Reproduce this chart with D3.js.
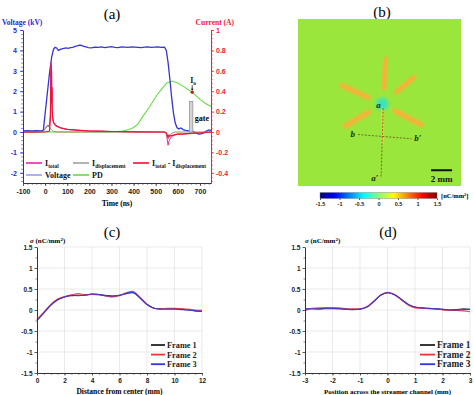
<!DOCTYPE html>
<html>
<head>
<meta charset="utf-8">
<script src="https://cdn.jsdelivr.net/npm/d3@7/dist/d3.min.js"></script>
<style>
  body { margin: 0; background: #fff; }
  svg { display: block; font-family: "Liberation Serif", "Times New Roman", serif; }
</style>
</head>
<body>
<svg id="fig" width="474" height="395"></svg>
<script>
// ---------- data: panel (a), time in ns ----------
const voltage = [ // [t, kV]
  [-100,0.06],[-80,0.07],[-60,0.05],[-40,0.07],[-20,0.06],[-8,0.08],[0,0.9],[10,1.9],[20,2.9],[30,3.7],
  [38,4.05],[45,4.15],[52,4.12],[60,4.0],[68,4.05],[76,4.08],[85,4.1],[95,4.12],[105,4.1],[115,4.14],
  [125,4.15],[135,4.2],[145,4.22],[155,4.26],[165,4.24],[175,4.2],[185,4.17],[195,4.14],[210,4.12],[225,4.16],
  [240,4.15],[255,4.17],[270,4.14],[285,4.16],[300,4.18],[315,4.15],[330,4.14],[345,4.17],[360,4.16],[375,4.15],
  [390,4.17],[405,4.16],[420,4.15],[435,4.14],[450,4.16],[465,4.17],[480,4.15],[495,4.16],[510,4.17],[525,4.15],
  [540,4.16],[548,4.0],[556,3.4],[564,2.6],[572,1.7],[580,0.95],[588,0.45],[596,0.22],[604,0.15],[614,0.2],
  [624,0.12],[636,0.08],[650,0.06],[665,0.05],[680,-0.05],[695,-0.1],[710,-0.08],[725,0.02],[740,0.1],[750,0.08]
];
const pd = [ // [t, A]
  [-100,0],[300,0],[350,0.01],[380,0.025],[400,0.045],[420,0.08],[444,0.16],[470,0.24],[505,0.36],[530,0.43],
  [550,0.48],[574,0.5],[600,0.48],[630,0.44],[665,0.39],[700,0.32],[725,0.28],[750,0.25]
];
const currentTime = [-100,-50,-10,0,10,20,24,26,27,28,29,30,31,32,34,37,40,45,50,60,70,80,100,130,160,200,250,300,
  400,500,540,548,552,556,560,564,570,580,590,600,620,650,680,700,730,750];
const iNet = [0,0,0,0,0.005,0.01,0.15,0.52,0.66,0.38,0.6,0.28,0.42,0.2,0.14,0.1,0.085,0.07,0.06,0.05,0.04,0.035,0.025,0.02,0.015,0.01,0.008,0.005,
  0.002,0,0,-0.01,-0.03,-0.05,-0.03,-0.04,-0.035,-0.03,-0.025,-0.02,-0.02,-0.015,-0.01,-0.01,-0.005,0];
const iDisp = [0,0,0.005,0.03,0.06,0.05,0.035,0.03,0.028,0.025,0.022,0.02,0.018,0.016,0.012,0.008,0.005,0.003,0.002,0,0,0,0,0,0,0,0,0,
  0,0,0,-0.01,-0.04,-0.07,-0.06,-0.03,-0.015,-0.005,0,0,0,0,0,0,0,0];
const iTotal = [0,0,0.005,0.03,0.065,0.06,0.185,0.55,0.69,0.405,0.62,0.3,0.44,0.216,0.152,0.108,0.09,0.073,0.062,0.05,0.04,0.035,0.025,0.02,0.015,0.01,0.008,0.005,
  0.002,0,0,-0.02,-0.07,-0.13,-0.09,-0.07,-0.05,-0.035,-0.025,-0.02,-0.02,-0.015,-0.01,-0.01,-0.005,0];
const ioPoint = [665, 0.39];
const gateWindow = [652, 668, 0.3];
const timeTicks = [-100,0,100,200,300,400,500,600,700];
const voltTicks = [-2,-1,0,1,2,3,4,5];
const currTicks = [-0.4,-0.2,0,0.2,0.4,0.6,0.8,1];

// ---------- data: panel (b), mm from the centre ----------
const streamAngle = [5, 50, 118, 179, 239, 295];     // degrees, clockwise from up
const streamFrom  = [1.5, 1.8, 1.4, 0.6, 1.5, 1.5];
const streamTo    = [4.3, 3.9, 4.2, 3.7, 4.1, 4.2];
const streamValue = [0.7, 0.7, 0.7, 0.55, 0.7, 0.7]; // nC/mm^2
const lineAA = [[0.1, 0.4], [-0.1, 6.9]];
const lineBB = [[-2.3, 2.9], [2.8, 3.3]];
const cbTicks = [-1.5,-1,-0.5,0,0.5,1,1.5];

// ---------- data: panels (c) and (d) ----------
const distC = [0,0.5,1,1.5,2,2.5,3,3.5,4,4.5,5,5.5,6,6.5,7,7.5,8,8.5,9,9.5,10,10.5,11,11.5,12];
const frame1C = [-0.24,-0.06,0.12,0.25,0.31,0.34,0.35,0.36,0.38,0.37,0.35,0.33,0.35,0.39,0.41,0.28,0.13,0.04,0.03,0.03,0.03,0.02,0.0,-0.02,-0.03];
const frame2C = [-0.23,-0.05,0.13,0.26,0.32,0.36,0.39,0.36,0.37,0.36,0.33,0.31,0.34,0.41,0.44,0.3,0.14,0.04,0.03,0.04,0.04,0.03,0.02,0.0,-0.01];
const frame3C = [-0.25,-0.07,0.11,0.24,0.31,0.35,0.34,0.35,0.38,0.37,0.34,0.33,0.35,0.4,0.42,0.29,0.13,0.04,0.02,0.02,0.02,0.01,0.0,-0.02,-0.03];
const distD = [-3,-2.75,-2.5,-2.25,-2,-1.75,-1.5,-1.25,-1,-0.75,-0.5,-0.25,0,0.25,0.5,0.75,1,1.25,1.5,1.75,2,2.25,2.5,2.75,3];
const frame1D = [0.02,0.03,0.03,0.04,0.04,0.03,0.02,0.02,0.02,0.07,0.2,0.35,0.41,0.37,0.25,0.13,0.07,0.05,0.04,0.03,0.01,0.0,0.01,0.03,0.01];
const frame2D = [-0.02,0.04,0.05,0.06,0.06,0.05,0.03,0.02,0.03,0.08,0.21,0.36,0.42,0.36,0.24,0.12,0.05,0.04,0.03,0.02,0.01,-0.01,-0.01,-0.02,-0.04];
const frame3D = [0.03,0.03,0.02,0.03,0.03,0.03,0.02,0.01,0.02,0.07,0.2,0.35,0.41,0.37,0.26,0.14,0.07,0.05,0.04,0.03,0.02,0.0,0.0,0.01,0.02];
const frameNames = ['Frame 1', 'Frame 2', 'Frame 3'];
const sigmaTicks = [-1.5,-1,-0.5,0,0.5,1,1.5];

const svg = d3.select('#fig');
const fmt = d => String(d);

function styleAxis(g, color, textColor, size) {
  g.select('.domain').attr('stroke', color).attr('stroke-width', 1);
  g.selectAll('.tick line').attr('stroke', color).attr('stroke-width', 0.8);
  g.selectAll('.tick text').attr('fill', textColor).attr('font-size', size)
    .attr('font-weight', 'bold').attr('font-family', null);
}
function minor(g, axis, color) {
  g.call(axis.tickFormat('').tickSizeOuter(0));
  g.select('.domain').remove();
  g.selectAll('.tick line').attr('stroke', color).attr('stroke-width', 0.6);
}
function subLabel(g, x, y, parts, size, color) {
  const t = g.append('text').attr('x', x).attr('y', y).attr('font-weight', 'bold')
    .attr('font-size', size).attr('fill', color || '#111');
  parts.forEach(p => {
    if (p[1]) t.append('tspan').attr('font-size', size * 0.68).attr('dy', 2).text(p[0]);
    else t.append('tspan').attr('dy', p[2] || 0).text(p[0]);
  });
  return t;
}

// ================= panel (a) =================
const A = {left: 23, right: 211, top: 30, bottom: 183};
const xA = d3.scaleLinear().domain([-100, 750]).range([A.left, A.right]);
const yV = d3.scaleLinear().domain([-2.5, 5]).range([A.bottom, A.top]);
const yI = d3.scaleLinear().domain([-0.5, 1]).range([A.bottom, A.top]);
const gA = svg.append('g');

gA.append('text').attr('x', 112).attr('y', 19).attr('text-anchor', 'middle').attr('font-size', 15).text('(a)');
gA.append('text').attr('x', 2).attr('y', 25).attr('font-size', 7.5).attr('font-weight', 'bold')
  .attr('fill', '#2a2ad0').text('Voltage (kV)');
gA.append('text').attr('x', 234).attr('y', 25).attr('text-anchor', 'end').attr('font-size', 7.5)
  .attr('font-weight', 'bold').attr('fill', '#ee2233').text('Current (A)');

const lineV = d3.line().x(d => xA(d[0])).y(d => yV(d[1]));
const lineI = d3.line().x(d => xA(d[0])).y(d => yI(d[1]));
const zipI = arr => currentTime.map((t, i) => [t, arr[i]]);

gA.append('path').attr('d', lineI(pd)).attr('fill', 'none').attr('stroke', '#66dd44').attr('stroke-width', 1.1);
gA.append('path').attr('d', lineV(voltage)).attr('fill', 'none').attr('stroke', '#3434d8').attr('stroke-width', 1.3);
gA.append('path').attr('d', lineI(zipI(iTotal))).attr('fill', 'none').attr('stroke', '#ee22aa').attr('stroke-width', 1);
gA.append('path').attr('d', lineI(zipI(iDisp))).attr('fill', 'none').attr('stroke', '#a08a60').attr('stroke-width', 1);
gA.append('path').attr('d', lineI(zipI(iNet))).attr('fill', 'none').attr('stroke', '#ee1133').attr('stroke-width', 1.2);

// gate window and I_o marker
gA.append('rect').attr('x', xA(gateWindow[0])).attr('y', yI(gateWindow[2]))
  .attr('width', xA(gateWindow[1]) - xA(gateWindow[0])).attr('height', yI(0) - yI(gateWindow[2]))
  .attr('fill', '#d4d4d4').attr('stroke', '#8a8a8a').attr('stroke-width', 0.7);
gA.append('text').attr('x', xA(gateWindow[1]) + 2).attr('y', yI(0.11)).attr('font-size', 8)
  .attr('font-weight', 'bold').text('gate');
const ioX = xA(ioPoint[0]), ioY = yI(ioPoint[1]);
gA.append('circle').attr('cx', ioX).attr('cy', ioY).attr('r', 1.6).attr('fill', '#cc1111');
gA.append('line').attr('x1', ioX).attr('x2', ioX).attr('y1', ioY - 7).attr('y2', ioY - 2.5)
  .attr('stroke', '#111').attr('stroke-width', 0.8);
gA.append('path').attr('d', `M${ioX - 1.5},${ioY - 3.5}L${ioX + 1.5},${ioY - 3.5}L${ioX},${ioY - 1.6}Z`).attr('fill', '#111');
subLabel(gA, ioX - 2, ioY - 9, [['I'], ['o', true]], 8);

// axes
const gL = gA.append('g').attr('transform', `translate(${A.left},0)`);
minor(gL, d3.axisLeft(yV).tickValues(d3.range(-2.4, 5.01, 0.2)).tickSize(1.8), '#2a2ad0');
gL.append('g').call(d3.axisLeft(yV).tickValues(voltTicks).tickFormat(fmt).tickSize(3).tickSizeOuter(0).tickPadding(3))
  .call(g => styleAxis(g, '#2a2ad0', '#2a2ad0', 7));
const gR = gA.append('g').attr('transform', `translate(${A.right},0)`);
minor(gR, d3.axisRight(yI).tickValues(d3.range(-0.48, 1.001, 0.04)).tickSize(1.8), '#ee2233');
gR.append('g').call(d3.axisRight(yI).tickValues(currTicks).tickFormat(fmt).tickSize(3).tickSizeOuter(0).tickPadding(2))
  .call(g => styleAxis(g, '#ee2233', '#ee2233', 7));
const gB = gA.append('g').attr('transform', `translate(0,${A.bottom})`);
minor(gB, d3.axisBottom(xA).tickValues(d3.range(-80, 751, 20)).tickSize(1.8), '#334');
gB.append('g').call(d3.axisBottom(xA).tickValues(timeTicks).tickFormat(fmt).tickSize(3).tickSizeOuter(0).tickPadding(3))
  .call(g => styleAxis(g, '#334', '#222', 7));
gA.append('text').attr('x', 117).attr('y', 206).attr('text-anchor', 'middle').attr('font-size', 7.5)
  .attr('font-weight', 'bold').text('Time (ns)');

// legend (a)
const legA = [
  {x: 26, y: 163, c: '#ee22aa', parts: [['I'], ['total', true]]},
  {x: 73, y: 163, c: '#a0a0a0', parts: [['I'], ['displacement', true]]},
  {x: 133, y: 163, c: '#ee1133', parts: [['I'], ['total', true], [' - I', false, -2], ['displacement', true]]},
  {x: 26, y: 175, c: '#9c9cf4', parts: [['Voltage']]},
  {x: 73, y: 175, c: '#66dd44', parts: [['PD']]}
];
legA.forEach(d => {
  gA.append('line').attr('x1', d.x).attr('x2', d.x + 16).attr('y1', d.y).attr('y2', d.y)
    .attr('stroke', d.c).attr('stroke-width', 1.6);
  subLabel(gA, d.x + 19, d.y + 2.5, d.parts, 8);
});

// ================= panel (b) =================
const gBm = svg.append('g');
gBm.append('text').attr('x', 382).attr('y', 17).attr('text-anchor', 'middle').attr('font-size', 15).text('(b)');
const xMM = d3.scaleLinear().domain([-8, 7.5]).range([298, 461]);
const yMM = d3.scaleLinear().domain([-8.1, 7.8]).range([19, 186]);
const jetStops = ['#00007f', '#0000ff', '#00ffff', '#ffff00', '#ff0000', '#7f0000'];
const jetAt = [0, 0.125, 0.375, 0.625, 0.875, 1];
const cScale = d3.scaleLinear().domain(jetAt.map(t => -1.5 + 3 * t)).range(jetStops).interpolate(d3.interpolateRgb);

const defs = svg.append('defs');
defs.append('filter').attr('id', 'soft').attr('x', '-50%').attr('y', '-50%').attr('width', '200%').attr('height', '200%')
  .append('feGaussianBlur').attr('stdDeviation', 0.9);
const rg = defs.append('radialGradient').attr('id', 'core');
rg.append('stop').attr('offset', '0%').attr('stop-color', '#2ee0c8');
rg.append('stop').attr('offset', '60%').attr('stop-color', '#55e49a');
rg.append('stop').attr('offset', '100%').attr('stop-color', '#9be63c');

gBm.append('rect').attr('x', xMM(-8)).attr('y', yMM(-8.1)).attr('width', xMM(7.5) - xMM(-8))
  .attr('height', yMM(7.8) - yMM(-8.1)).attr('fill', '#9be63c');
gBm.append('circle').attr('cx', xMM(0)).attr('cy', yMM(0)).attr('r', 8.5).attr('fill', 'url(#core)');
streamAngle.forEach((a, i) => {
  const r = a * Math.PI / 180;
  gBm.append('line')
    .attr('x1', xMM(streamFrom[i] * Math.sin(r))).attr('y1', yMM(-streamFrom[i] * Math.cos(r)))
    .attr('x2', xMM(streamTo[i] * Math.sin(r))).attr('y2', yMM(-streamTo[i] * Math.cos(r)))
    .attr('stroke', d3.interpolateRgb(cScale(streamValue[i]), '#ffe0a0')(0.35)).attr('stroke-opacity', 0.95)
    .attr('stroke-width', i === 3 ? 3.2 : 5).attr('stroke-linecap', 'round').attr('filter', 'url(#soft)');
});
[lineAA, lineBB].forEach(l => {
  gBm.append('line').attr('x1', xMM(l[0][0])).attr('y1', yMM(l[0][1])).attr('x2', xMM(l[1][0])).attr('y2', yMM(l[1][1]))
    .attr('stroke', '#6a4a1a').attr('stroke-width', 0.8).attr('stroke-dasharray', '2,1.5');
});
const lab = (x, y, t) => gBm.append('text').attr('x', x).attr('y', y).attr('font-size', 9).attr('font-weight', 'bold')
  .attr('font-style', 'italic').attr('fill', '#1a2a10').attr('text-anchor', 'middle').text(t);
lab(xMM(-0.35), yMM(0.35), 'a');
lab(xMM(-2.8), yMM(3.1), 'b');
lab(xMM(3.4), yMM(3.5), 'b\u2032');
lab(xMM(-0.7), yMM(7.3), 'a\u2032');
gBm.append('line').attr('x1', xMM(4.65)).attr('x2', xMM(6.65)).attr('y1', yMM(6.3)).attr('y2', yMM(6.3))
  .attr('stroke', '#111').attr('stroke-width', 2);
gBm.append('text').attr('x', xMM(5.65)).attr('y', yMM(7.4)).attr('text-anchor', 'middle').attr('font-size', 9)
  .attr('font-weight', 'bold').attr('fill', '#111').text('2 mm');

// colourbar
const cbX = d3.scaleLinear().domain([-1.5, 1.5]).range([320, 437]);
const lg = defs.append('linearGradient').attr('id', 'jet');
jetStops.forEach((c, i) => lg.append('stop').attr('offset', jetAt[i] * 100 + '%').attr('stop-color', c));
gBm.append('rect').attr('x', cbX(-1.5)).attr('y', 192.5).attr('width', cbX(1.5) - cbX(-1.5)).attr('height', 6)
  .attr('fill', 'url(#jet)').attr('stroke', '#777').attr('stroke-width', 0.4);
const gCb = gBm.append('g').attr('transform', 'translate(0,198.5)')
  .call(d3.axisBottom(cbX).tickValues(cbTicks).tickFormat(fmt).tickSize(1.5).tickSizeOuter(0).tickPadding(2));
gCb.select('.domain').remove();
gCb.selectAll('.tick line').attr('stroke', '#555');
gCb.selectAll('.tick text').attr('font-size', 5.5).attr('font-weight', 'bold').attr('font-family', null).attr('fill', '#222');
const cbl = gBm.append('text').attr('x', 441).attr('y', 198).attr('font-size', 6.5).attr('font-weight', 'bold').text('[nC/mm');
cbl.append('tspan').attr('font-size', 4.5).attr('dy', -2.5).text('2');
cbl.append('tspan').attr('dy', 2.5).text(']');

// ================= panels (c), (d) =================
const frameColors = ['#222222', '#ee3333', '#3333ee'];
function sigmaPanel(o) {
  const g = svg.append('g');
  const x = d3.scaleLinear().domain(o.domain).range([o.left, o.right]);
  const y = d3.scaleLinear().domain([-1.5, 1.5]).range([373, 247]);
  g.append('text').attr('x', o.titleX).attr('y', 237).attr('text-anchor', 'middle').attr('font-size', 15).text(o.title);
  // grid
  g.selectAll('.gx').data(o.ticks.slice(1)).join('line').attr('x1', d => x(d)).attr('x2', d => x(d))
    .attr('y1', y(-1.5)).attr('y2', y(1.5)).attr('stroke', '#dcdcdc').attr('stroke-width', 0.6);
  g.selectAll('.gy').data(sigmaTicks.slice(1)).join('line').attr('x1', o.left).attr('x2', o.right)
    .attr('y1', d => y(d)).attr('y2', d => y(d)).attr('stroke', '#dcdcdc').attr('stroke-width', 0.6);
  // series
  const line = d3.line().x((d, i) => x(o.dist[i])).y(d => y(d)).curve(d3.curveCatmullRom);
  o.frames.forEach((f, k) => {
    g.append('path').attr('d', line(f)).attr('fill', 'none').attr('stroke', frameColors[k])
      .attr('stroke-width', 1.1).attr('stroke-opacity', 0.9);
  });
  // axes
  const gy = g.append('g').attr('transform', `translate(${o.left},0)`);
  minor(gy, d3.axisLeft(y).tickValues(d3.range(-1.25, 1.5, 0.5)).tickSize(1.5), '#333');
  gy.append('g').call(d3.axisLeft(y).tickValues(sigmaTicks).tickFormat(fmt).tickSize(2.5).tickSizeOuter(0).tickPadding(2))
    .call(s => styleAxis(s, '#333', '#222', 6.5));
  const gx = g.append('g').attr('transform', `translate(0,${y(-1.5)})`);
  minor(gx, d3.axisBottom(x).tickValues(o.minor).tickSize(1.8), '#333');
  gx.append('g').call(d3.axisBottom(x).tickValues(o.ticks).tickFormat(fmt).tickSize(2.5).tickSizeOuter(0).tickPadding(3))
    .call(s => styleAxis(s, '#333', '#222', 6.5));
  g.append('text').attr('x', (o.left + o.right) / 2).attr('y', 394).attr('text-anchor', 'middle')
    .attr('font-size', o.xTitleSize).attr('font-weight', 'bold').text(o.xTitle);
  const yl = g.append('text').attr('x', o.ylX).attr('y', 243).attr('font-size', 7).attr('font-weight', 'bold');
  yl.append('tspan').attr('font-style', 'italic').text('\u03c3');
  yl.append('tspan').text(' (nC/mm');
  yl.append('tspan').attr('font-size', 5).attr('dy', -2.5).text('2');
  yl.append('tspan').attr('dy', 2.5).text(')');
  // legend
  frameNames.forEach((n, k) => {
    const ly = 345 + k * 9.6;
    g.append('line').attr('x1', o.legX).attr('x2', o.legX + o.legLen).attr('y1', ly).attr('y2', ly)
      .attr('stroke', frameColors[k]).attr('stroke-width', 1.8);
    g.append('text').attr('x', o.legX + o.legLen + 2).attr('y', ly + 3).attr('font-size', o.legSize)
      .attr('font-weight', 'bold').attr('fill', '#222').text(n);
  });
}

sigmaPanel({
  left: 37, right: 202, domain: [0, 12], ticks: d3.range(0, 13, 2), minor: d3.range(0.5, 12, 0.5),
  dist: distC, frames: [frame1C, frame2C, frame3C], title: '(c)', titleX: 112,
  xTitle: 'Distance from center (mm)', xTitleSize: 7.5, ylX: 30,
  legX: 151, legLen: 14, legSize: 8.3
});
sigmaPanel({
  left: 305, right: 470, domain: [-3, 3], ticks: d3.range(-3, 3.01, 1), minor: d3.range(-2.75, 3, 0.25),
  dist: distD, frames: [frame1D, frame2D, frame3D], title: '(d)', titleX: 388,
  xTitle: 'Position across the streamer channel (mm)', xTitleSize: 7, ylX: 305,
  legX: 420, legLen: 15, legSize: 9.3
});
</script>
</body>
</html>
